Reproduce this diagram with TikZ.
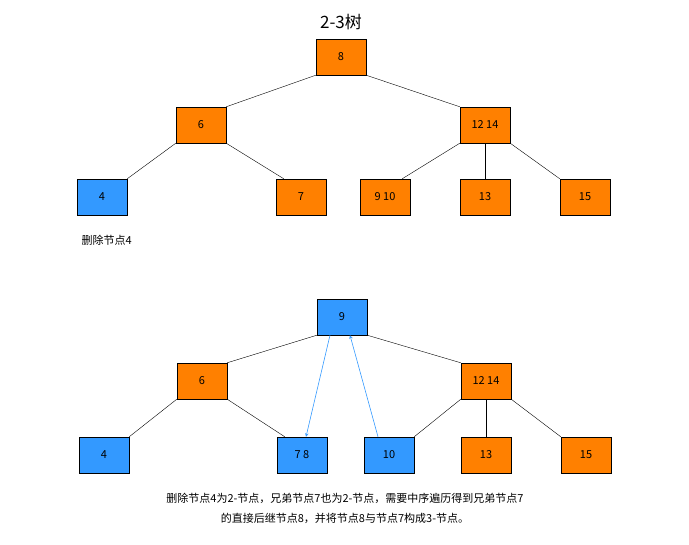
\documentclass[tikz,border=0pt]{standalone}
\usepackage{fontspec}
\setmainfont{Noto Sans CJK SC}
\definecolor{nodeorange}{HTML}{FF8000}
\definecolor{nodeblue}{HTML}{3399FF}
\begin{document}
\begin{tikzpicture}[x=1pt, y=-1pt,
        box/.style={rectangle, draw, thin, minimum width=50pt, minimum height=36pt, font=\fontsize{11}{13}\selectfont, inner sep=0pt},
        red box/.style={box, fill=nodeorange},
        blue box/.style={box, fill=nodeblue},
        edge/.style={thin},
        arrow/.style={->, >=stealth, nodeblue, semithick}
    ]
        \useasboundingbox (0,0) rectangle (689,545);

        \node (title) at (341,22) {\fontsize{17}{20}\selectfont 2-3树};

        % first tree
        \node (a8) [red box] at (341,57) {8};
        \node (a6) [red box] at (201,125) {6};
        \node (a1214) [red box] at (485,125) {12 14};
        \node (a4) [blue box] at (102,197) {4};
        \node (a7) [red box] at (301,197) {7};
        \node (a910) [red box] at (385,197) {9 10};
        \node (a13) [red box] at (485,197) {13};
        \node (a15) [red box] at (585,197) {15};

        \draw[edge] (a8.south west) -- (a6.north east);
        \draw[edge] (a8.south east) -- (a1214.north west);
        \draw[edge] (a6.south west) -- (a4.north east);
        \draw[edge] (a6.south east) -- ([xshift=8pt]a7.north west);
        \draw[edge] (a1214.south west) -- ([xshift=-8pt]a910.north east);
        \draw[edge] (a1214.south) -- (a13.north);
        \draw[edge] (a1214.south east) -- (a15.north west);

        \node (note1) [anchor=west, font=\fontsize{11}{13}\selectfont] at (78,240) {删除节点4};

        % second tree
        \node (b9) [blue box] at (342,317) {9};
        \node (b6) [red box] at (202,381) {6};
        \node (b1214) [red box] at (486,381) {12 14};
        \node (b4) [blue box] at (104,455) {4};
        \node (b78) [blue box] at (302,455) {7 8};
        \node (b10) [blue box] at (389,455) {10};
        \node (b13) [red box] at (486,455) {13};
        \node (b15) [red box] at (586,455) {15};

        \draw[edge] (b9.south west) -- (b6.north east);
        \draw[edge] (b9.south east) -- (b1214.north west);
        \draw[edge] (b6.south west) -- (b4.north east);
        \draw[edge] (b6.south east) -- ([xshift=8pt]b78.north west);
        \draw[edge] (b1214.south west) -- (b10.north east);
        \draw[edge] (b1214.south) -- (b13.north);
        \draw[edge] (b1214.south east) -- (b15.north west);

        \draw[arrow] ([xshift=-12pt]b9.south) -- ([xshift=4pt]b78.north);
        \draw[arrow] ([xshift=-11pt]b10.north) -- ([xshift=8pt]b9.south);

        \node (note2) [align=center, font=\fontsize{11}{20}\selectfont] at (345,508) {删除节点4为2-节点，兄弟节点7也为2-节点，需要中序遍历得到兄弟节点7\\的直接后继节点8，并将节点8与节点7构成3-节点。};
    \end{tikzpicture}
\end{document}
